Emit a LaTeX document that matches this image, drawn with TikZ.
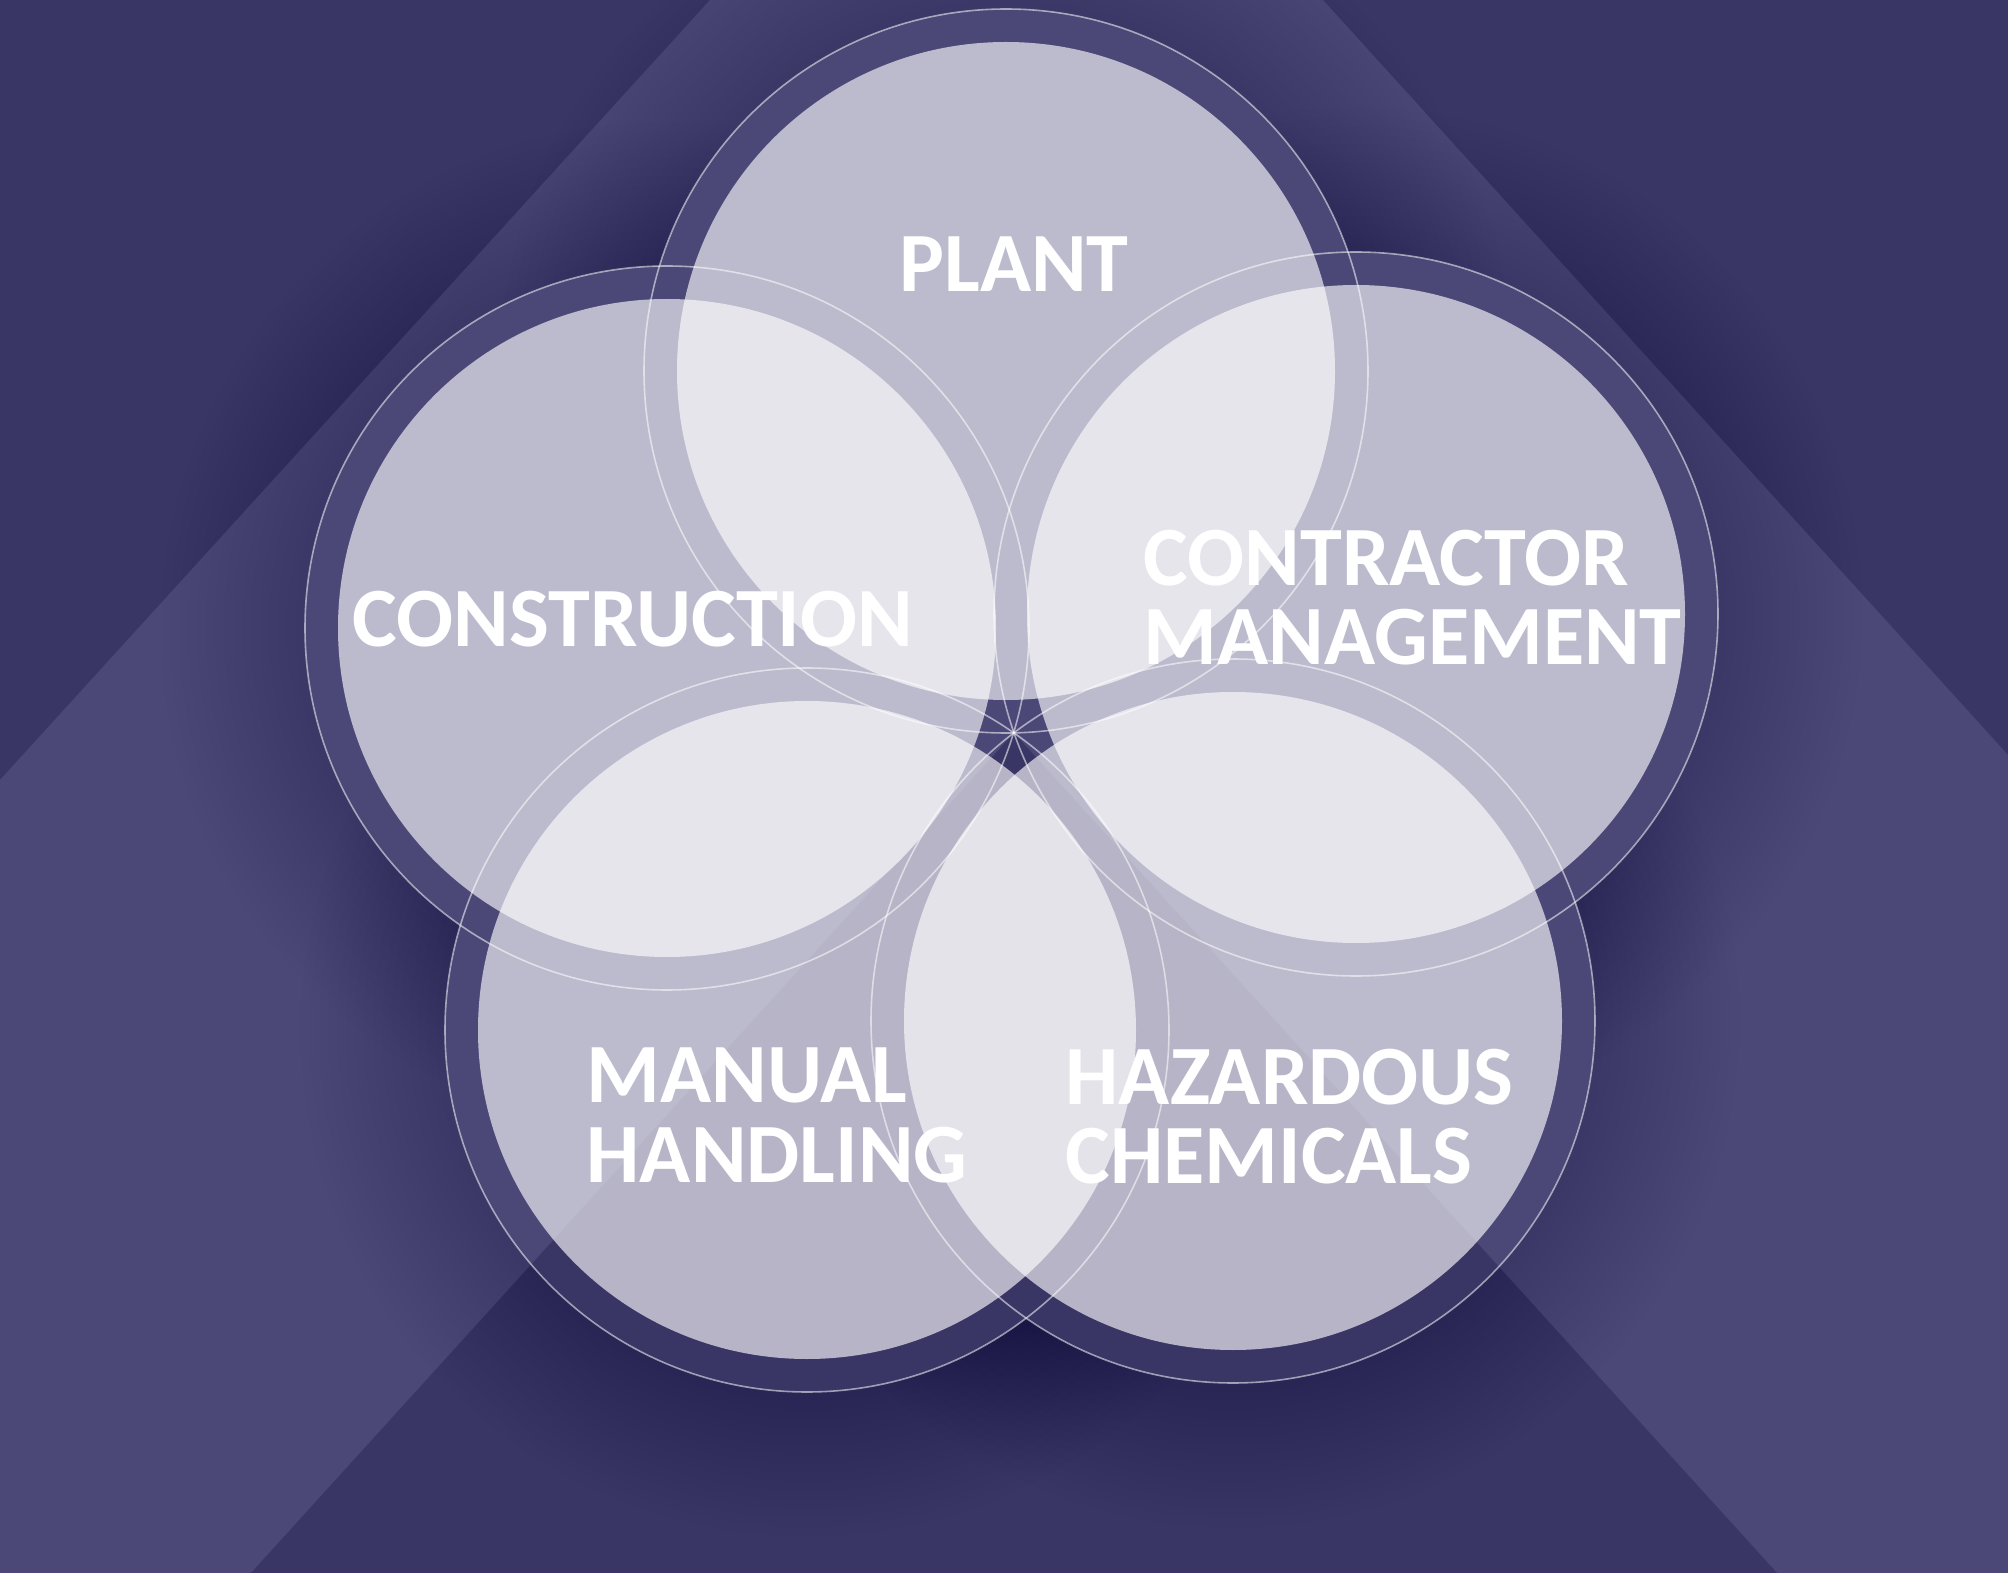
\documentclass[tikz,border=0pt]{standalone}
\usepackage{fontspec}
\setmainfont{Carlito}
\definecolor{bgdark}{RGB}{57,54,102}
\definecolor{bgband}{RGB}{75,72,120}

\begin{document}
\begin{tikzpicture}[x=0.01cm,y=-0.01cm,
  petal/.style={fill=white,fill opacity=.63},
  rim/.style={draw=white,draw opacity=.55,line width=.45pt},
  halo/.style={fill=black,fill opacity=.006},
  label node/.style={text=white,inner sep=0pt,align=left,font=\fontsize{24pt}{22.7pt}\selectfont\bfseries}]
  \useasboundingbox (0,0) rectangle (2008,1573);

  % background with the light chevron band
  \fill[bgdark] (0,0) rectangle (2008,1573);
  \fill[bgband] (0,780) -- (710,0) -- (1323,0) -- (2008,755) -- (2008,1573) -- (0,1573) -- cycle;
  \fill[bgdark] (1014,733) -- (1777,1573) -- (251,1573) -- cycle;

  % centres of the five circles
  \coordinate (mid) at (1014,733);
  \coordinate (plant) at (1006,371);
  \coordinate (construction) at (667,628);
  \coordinate (contractor) at (1356,614);
  \coordinate (manual) at (807,1030);
  \coordinate (hazardous) at (1233,1021);

  % soft shadow, only outside the five rims
  \begin{scope}[even odd rule]
    \clip (0,0) rectangle (2008,1573) (plant) circle[radius=362];
    \clip (0,0) rectangle (2008,1573) (construction) circle[radius=362];
    \clip (0,0) rectangle (2008,1573) (contractor) circle[radius=362];
    \clip (0,0) rectangle (2008,1573) (manual) circle[radius=362];
    \clip (0,0) rectangle (2008,1573) (hazardous) circle[radius=362];
    \foreach \c in {plant,construction,contractor,manual,hazardous}
      \foreach \r in {9,18,...,144}
        \fill[halo] (\c) circle[radius=362+\r] (\c) circle[radius=362];
  \end{scope}

  \foreach \c in {plant,construction,contractor,manual,hazardous}
    \fill[petal] (\c) circle[radius=329];
  \foreach \c in {plant,construction,contractor,manual,hazardous}
    \draw[rim] (\c) circle[radius=362];

  \node[label node,anchor=base] (plant label) at (1014,292) {PLANT};
  \node[label node,anchor=base] (construction label) at (633,647) {CONSTRUCTION};
  \node[label node,anchor=north west] (contractor label) at (1143,529) {CONTRACTOR\\MANAGEMENT};
  \node[label node,anchor=north west] (manual label) at (586,1047) {MANUAL\\HANDLING};
  \node[label node,anchor=north west] (hazardous label) at (1065,1048) {HAZARDOUS\\CHEMICALS};
\end{tikzpicture}
\end{document}
